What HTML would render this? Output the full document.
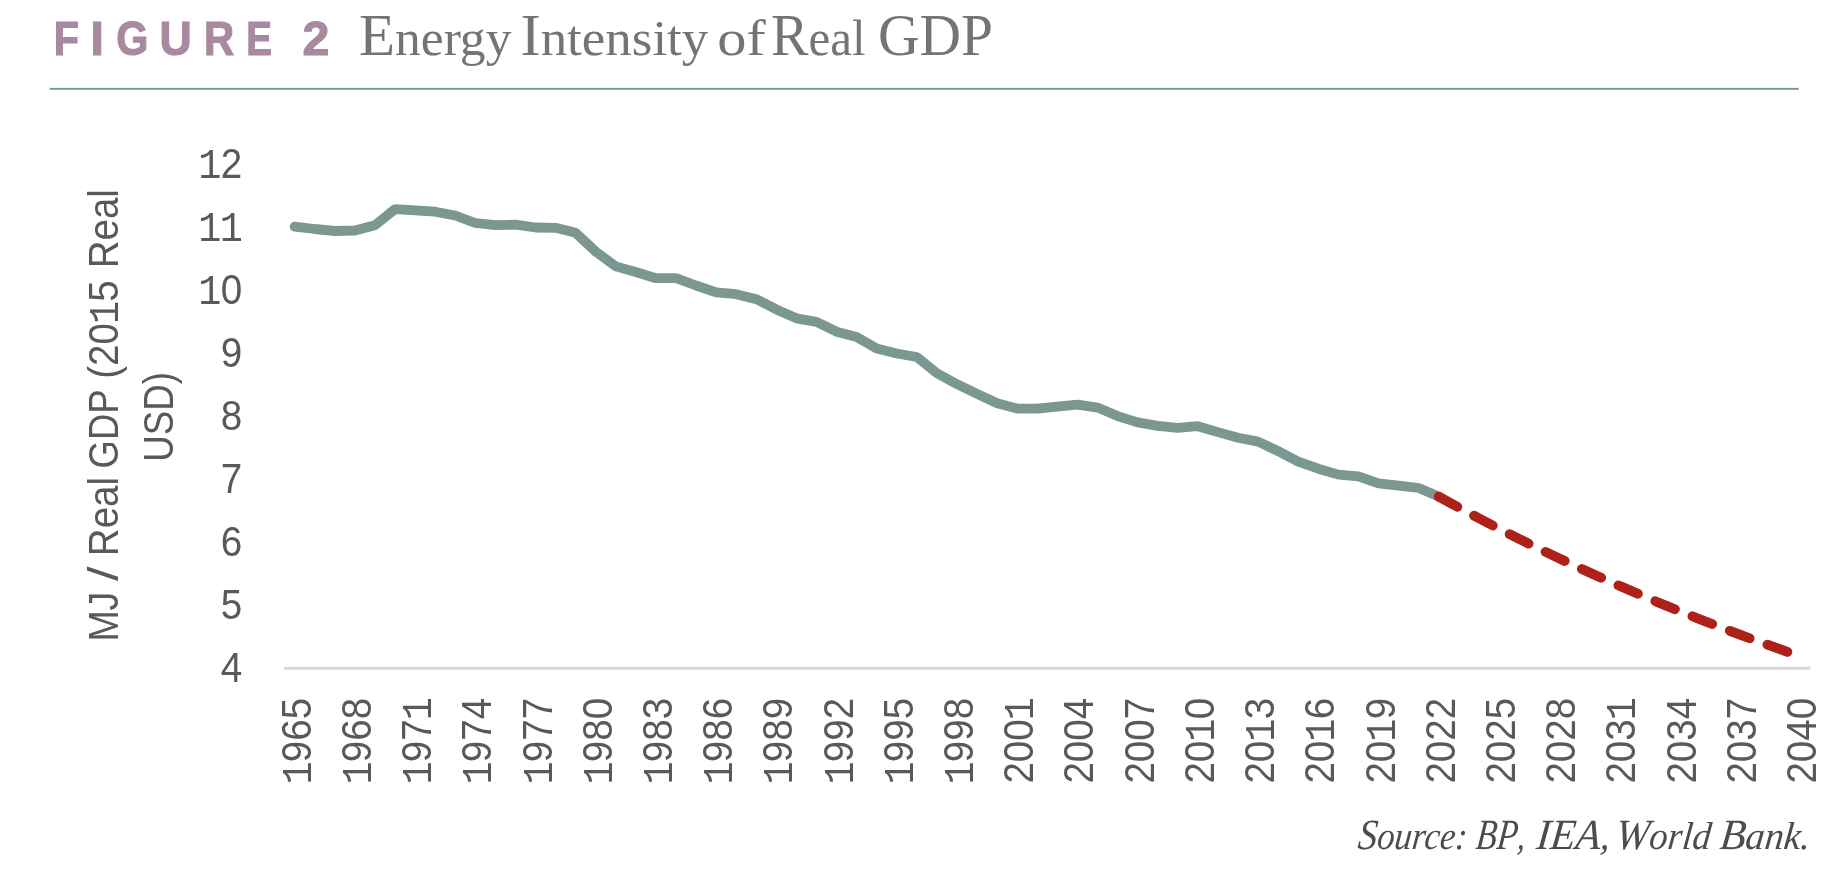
<!DOCTYPE html>
<html><head><meta charset="utf-8"><style>
html,body{margin:0;padding:0;background:#fff;}
body{width:1844px;height:876px;overflow:hidden;position:relative;}
svg{position:absolute;left:0;top:0;will-change:transform;}
</style></head><body>
<svg width="1844" height="876" viewBox="0 0 1844 876">
<g font-family="Liberation Sans, sans-serif" font-size="48.5" font-weight="bold" fill="#a8899f" stroke="#a8899f" stroke-width="1.2"><text transform="translate(53.82,54.8) scale(0.852,1)">F</text><text transform="translate(90.61,54.8) scale(0.992,1)">I</text><text transform="translate(116.25,54.8) scale(0.852,1)">G</text><text transform="translate(159.62,54.8) scale(0.921,1)">U</text><text transform="translate(203.99,54.8) scale(0.863,1)">R</text><text transform="translate(246.19,54.8) scale(0.795,1)">E</text><text transform="translate(302.57,54.8) scale(0.997,1)">2</text></g>
<g font-family="Liberation Serif, serif" font-size="51.5" fill="#747476"><text transform="translate(358.90,55.0) scale(1.001,1)"><tspan font-size="59">E</tspan>nergy</text><text transform="translate(520.44,55.0) scale(1.028,1)"><tspan font-size="59">I</tspan>ntensity</text><text transform="translate(717.13,55.0) scale(1.134,1)">of</text><text transform="translate(771.10,55.0) scale(0.951,1)"><tspan font-size="59">R</tspan>eal</text><text transform="translate(877.95,55.0) scale(0.974,1)"><tspan font-size="59">GDP</tspan></text></g>
<rect x="49.75" y="87.9" width="1749" height="1.9" fill="#7b9793"/>
<g font-family="Liberation Sans, sans-serif" font-size="42" fill="#595959">
<text transform="translate(220.72,681.95) scale(0.92,1)">4</text>
<text transform="translate(220.72,619.00) scale(0.92,1)">5</text>
<text transform="translate(220.72,556.05) scale(0.92,1)">6</text>
<text transform="translate(220.72,493.10) scale(0.92,1)">7</text>
<text transform="translate(220.72,430.15) scale(0.92,1)">8</text>
<text transform="translate(220.72,367.20) scale(0.92,1)">9</text>
<text transform="translate(199.23,304.25) scale(0.92,1)"><tspan font-family="Liberation Mono, monospace" dx="-1" letter-spacing="-0.85">1</tspan>0</text>
<text transform="translate(199.23,241.30) scale(0.92,1)"><tspan font-family="Liberation Mono, monospace" dx="-1" letter-spacing="-0.85">1</tspan><tspan font-family="Liberation Mono, monospace" dx="-1" letter-spacing="-0.85">1</tspan></text>
<text transform="translate(199.23,178.35) scale(0.92,1)"><tspan font-family="Liberation Mono, monospace" dx="-1" letter-spacing="-0.85">1</tspan>2</text>

<text transform="translate(118.3,641.58) rotate(-90) scale(0.892,1)">MJ</text><text transform="translate(118.3,581.00) rotate(-90) scale(1.250,1)">/</text><text transform="translate(118.3,556.15) rotate(-90) scale(0.916,1)">Real</text><text transform="translate(118.3,468.43) rotate(-90) scale(0.867,1)">GDP</text><text transform="translate(118.3,378.74) rotate(-90) scale(0.915,1)">(20<tspan font-family="Liberation Mono, monospace" dx="-1" letter-spacing="-0.85">1</tspan>5</text><text transform="translate(118.3,268.14) rotate(-90) scale(0.915,1)">Real</text><text transform="translate(173.4,461.82) rotate(-90) scale(0.874,1)">USD)</text>
</g>
<g font-family="Liberation Sans, sans-serif" font-size="42" fill="#595959">
<text transform="translate(310.64,783.56) rotate(-90) scale(0.917,1)"><tspan font-family="Liberation Mono, monospace" dx="-1" letter-spacing="-0.85">1</tspan>965</text>
<text transform="translate(370.85,783.56) rotate(-90) scale(0.917,1)"><tspan font-family="Liberation Mono, monospace" dx="-1" letter-spacing="-0.85">1</tspan>968</text>
<text transform="translate(431.07,783.56) rotate(-90) scale(0.917,1)"><tspan font-family="Liberation Mono, monospace" dx="-1" letter-spacing="-0.85">1</tspan>97<tspan font-family="Liberation Mono, monospace" dx="-1" letter-spacing="-0.85">1</tspan></text>
<text transform="translate(491.28,783.56) rotate(-90) scale(0.917,1)"><tspan font-family="Liberation Mono, monospace" dx="-1" letter-spacing="-0.85">1</tspan>974</text>
<text transform="translate(551.50,783.56) rotate(-90) scale(0.917,1)"><tspan font-family="Liberation Mono, monospace" dx="-1" letter-spacing="-0.85">1</tspan>977</text>
<text transform="translate(611.72,783.56) rotate(-90) scale(0.917,1)"><tspan font-family="Liberation Mono, monospace" dx="-1" letter-spacing="-0.85">1</tspan>980</text>
<text transform="translate(671.93,783.56) rotate(-90) scale(0.917,1)"><tspan font-family="Liberation Mono, monospace" dx="-1" letter-spacing="-0.85">1</tspan>983</text>
<text transform="translate(732.15,783.56) rotate(-90) scale(0.917,1)"><tspan font-family="Liberation Mono, monospace" dx="-1" letter-spacing="-0.85">1</tspan>986</text>
<text transform="translate(792.36,783.56) rotate(-90) scale(0.917,1)"><tspan font-family="Liberation Mono, monospace" dx="-1" letter-spacing="-0.85">1</tspan>989</text>
<text transform="translate(852.58,783.56) rotate(-90) scale(0.917,1)"><tspan font-family="Liberation Mono, monospace" dx="-1" letter-spacing="-0.85">1</tspan>992</text>
<text transform="translate(912.80,783.56) rotate(-90) scale(0.917,1)"><tspan font-family="Liberation Mono, monospace" dx="-1" letter-spacing="-0.85">1</tspan>995</text>
<text transform="translate(973.01,783.56) rotate(-90) scale(0.917,1)"><tspan font-family="Liberation Mono, monospace" dx="-1" letter-spacing="-0.85">1</tspan>998</text>
<text transform="translate(1033.23,783.56) rotate(-90) scale(0.917,1)">200<tspan font-family="Liberation Mono, monospace" dx="-1" letter-spacing="-0.85">1</tspan></text>
<text transform="translate(1093.44,783.56) rotate(-90) scale(0.917,1)">2004</text>
<text transform="translate(1153.66,783.56) rotate(-90) scale(0.917,1)">2007</text>
<text transform="translate(1213.88,783.56) rotate(-90) scale(0.917,1)">20<tspan font-family="Liberation Mono, monospace" dx="-1" letter-spacing="-0.85">1</tspan>0</text>
<text transform="translate(1274.09,783.56) rotate(-90) scale(0.917,1)">20<tspan font-family="Liberation Mono, monospace" dx="-1" letter-spacing="-0.85">1</tspan>3</text>
<text transform="translate(1334.31,783.56) rotate(-90) scale(0.917,1)">20<tspan font-family="Liberation Mono, monospace" dx="-1" letter-spacing="-0.85">1</tspan>6</text>
<text transform="translate(1394.52,783.56) rotate(-90) scale(0.917,1)">20<tspan font-family="Liberation Mono, monospace" dx="-1" letter-spacing="-0.85">1</tspan>9</text>
<text transform="translate(1454.74,783.56) rotate(-90) scale(0.917,1)">2022</text>
<text transform="translate(1514.96,783.56) rotate(-90) scale(0.917,1)">2025</text>
<text transform="translate(1575.17,783.56) rotate(-90) scale(0.917,1)">2028</text>
<text transform="translate(1635.39,783.56) rotate(-90) scale(0.917,1)">203<tspan font-family="Liberation Mono, monospace" dx="-1" letter-spacing="-0.85">1</tspan></text>
<text transform="translate(1695.60,783.56) rotate(-90) scale(0.917,1)">2034</text>
<text transform="translate(1755.82,783.56) rotate(-90) scale(0.917,1)">2037</text>
<text transform="translate(1816.04,783.56) rotate(-90) scale(0.917,1)">2040</text>

</g>
<rect x="284.2" y="666.75" width="1526" height="3" fill="#d9d9d9"/>
<polyline points="294.64,226.60 314.71,229.00 334.78,231.00 354.85,230.50 374.92,225.20 395.00,209.10 415.07,210.30 435.14,211.70 455.21,215.50 475.28,223.00 495.36,225.20 515.43,224.70 535.50,227.50 555.57,227.80 575.64,232.80 595.72,251.60 615.79,266.40 635.86,272.00 655.93,278.20 676.00,278.20 696.08,285.50 716.15,292.40 736.22,294.20 756.29,299.20 776.36,309.40 796.44,318.30 816.51,321.80 836.58,331.70 856.65,337.00 876.72,348.60 896.80,353.50 916.87,357.00 936.94,373.30 957.01,384.20 977.08,393.90 997.16,403.30 1017.23,408.50 1037.30,408.70 1057.37,406.60 1077.44,404.70 1097.52,407.60 1117.59,416.10 1137.66,422.40 1157.73,425.90 1177.80,427.80 1197.88,426.20 1217.95,432.10 1238.02,437.70 1258.09,441.60 1278.16,451.20 1298.24,461.60 1318.31,468.70 1338.38,474.60 1358.45,476.40 1378.52,483.30 1398.60,485.60 1418.67,488.00 1438.74,496.60" fill="none" stroke="#7b9791" stroke-width="9.8" stroke-linejoin="bevel" stroke-linecap="round"/>
<polyline points="1438.74,496.60 1458.81,507.59 1478.88,518.29 1498.96,528.71 1519.03,538.87 1539.10,548.76 1559.17,558.39 1579.24,567.78 1599.32,576.92 1619.39,585.82 1639.46,594.49 1659.53,602.94 1679.60,611.17 1699.68,619.18 1719.75,626.99 1739.82,634.59 1759.89,642.00 1779.96,649.22 1800.04,656.24" fill="none" stroke="#ae2118" stroke-width="9.8" stroke-linejoin="round" stroke-linecap="round" stroke-dasharray="21.2 18.9"/>
<g font-family="Liberation Serif, serif" font-size="39" font-style="italic" fill="#4b4b50"><text transform="translate(1356.90,848.9) skewX(-6) scale(0.896,1)"><tspan font-size="43">S</tspan>ource:</text><text transform="translate(1475.11,848.9) skewX(-6) scale(0.792,1)"><tspan font-size="43">BP</tspan>,</text><text transform="translate(1535.40,848.9) skewX(-6) scale(0.961,1)"><tspan font-size="43">IEA</tspan>,</text><text transform="translate(1614.41,848.9) skewX(-6) scale(0.948,1)"><tspan font-size="43">W</tspan>orld</text><text transform="translate(1718.92,848.9) skewX(-6) scale(0.978,1)"><tspan font-size="43">B</tspan>ank.</text></g>
</svg>
</body></html>
